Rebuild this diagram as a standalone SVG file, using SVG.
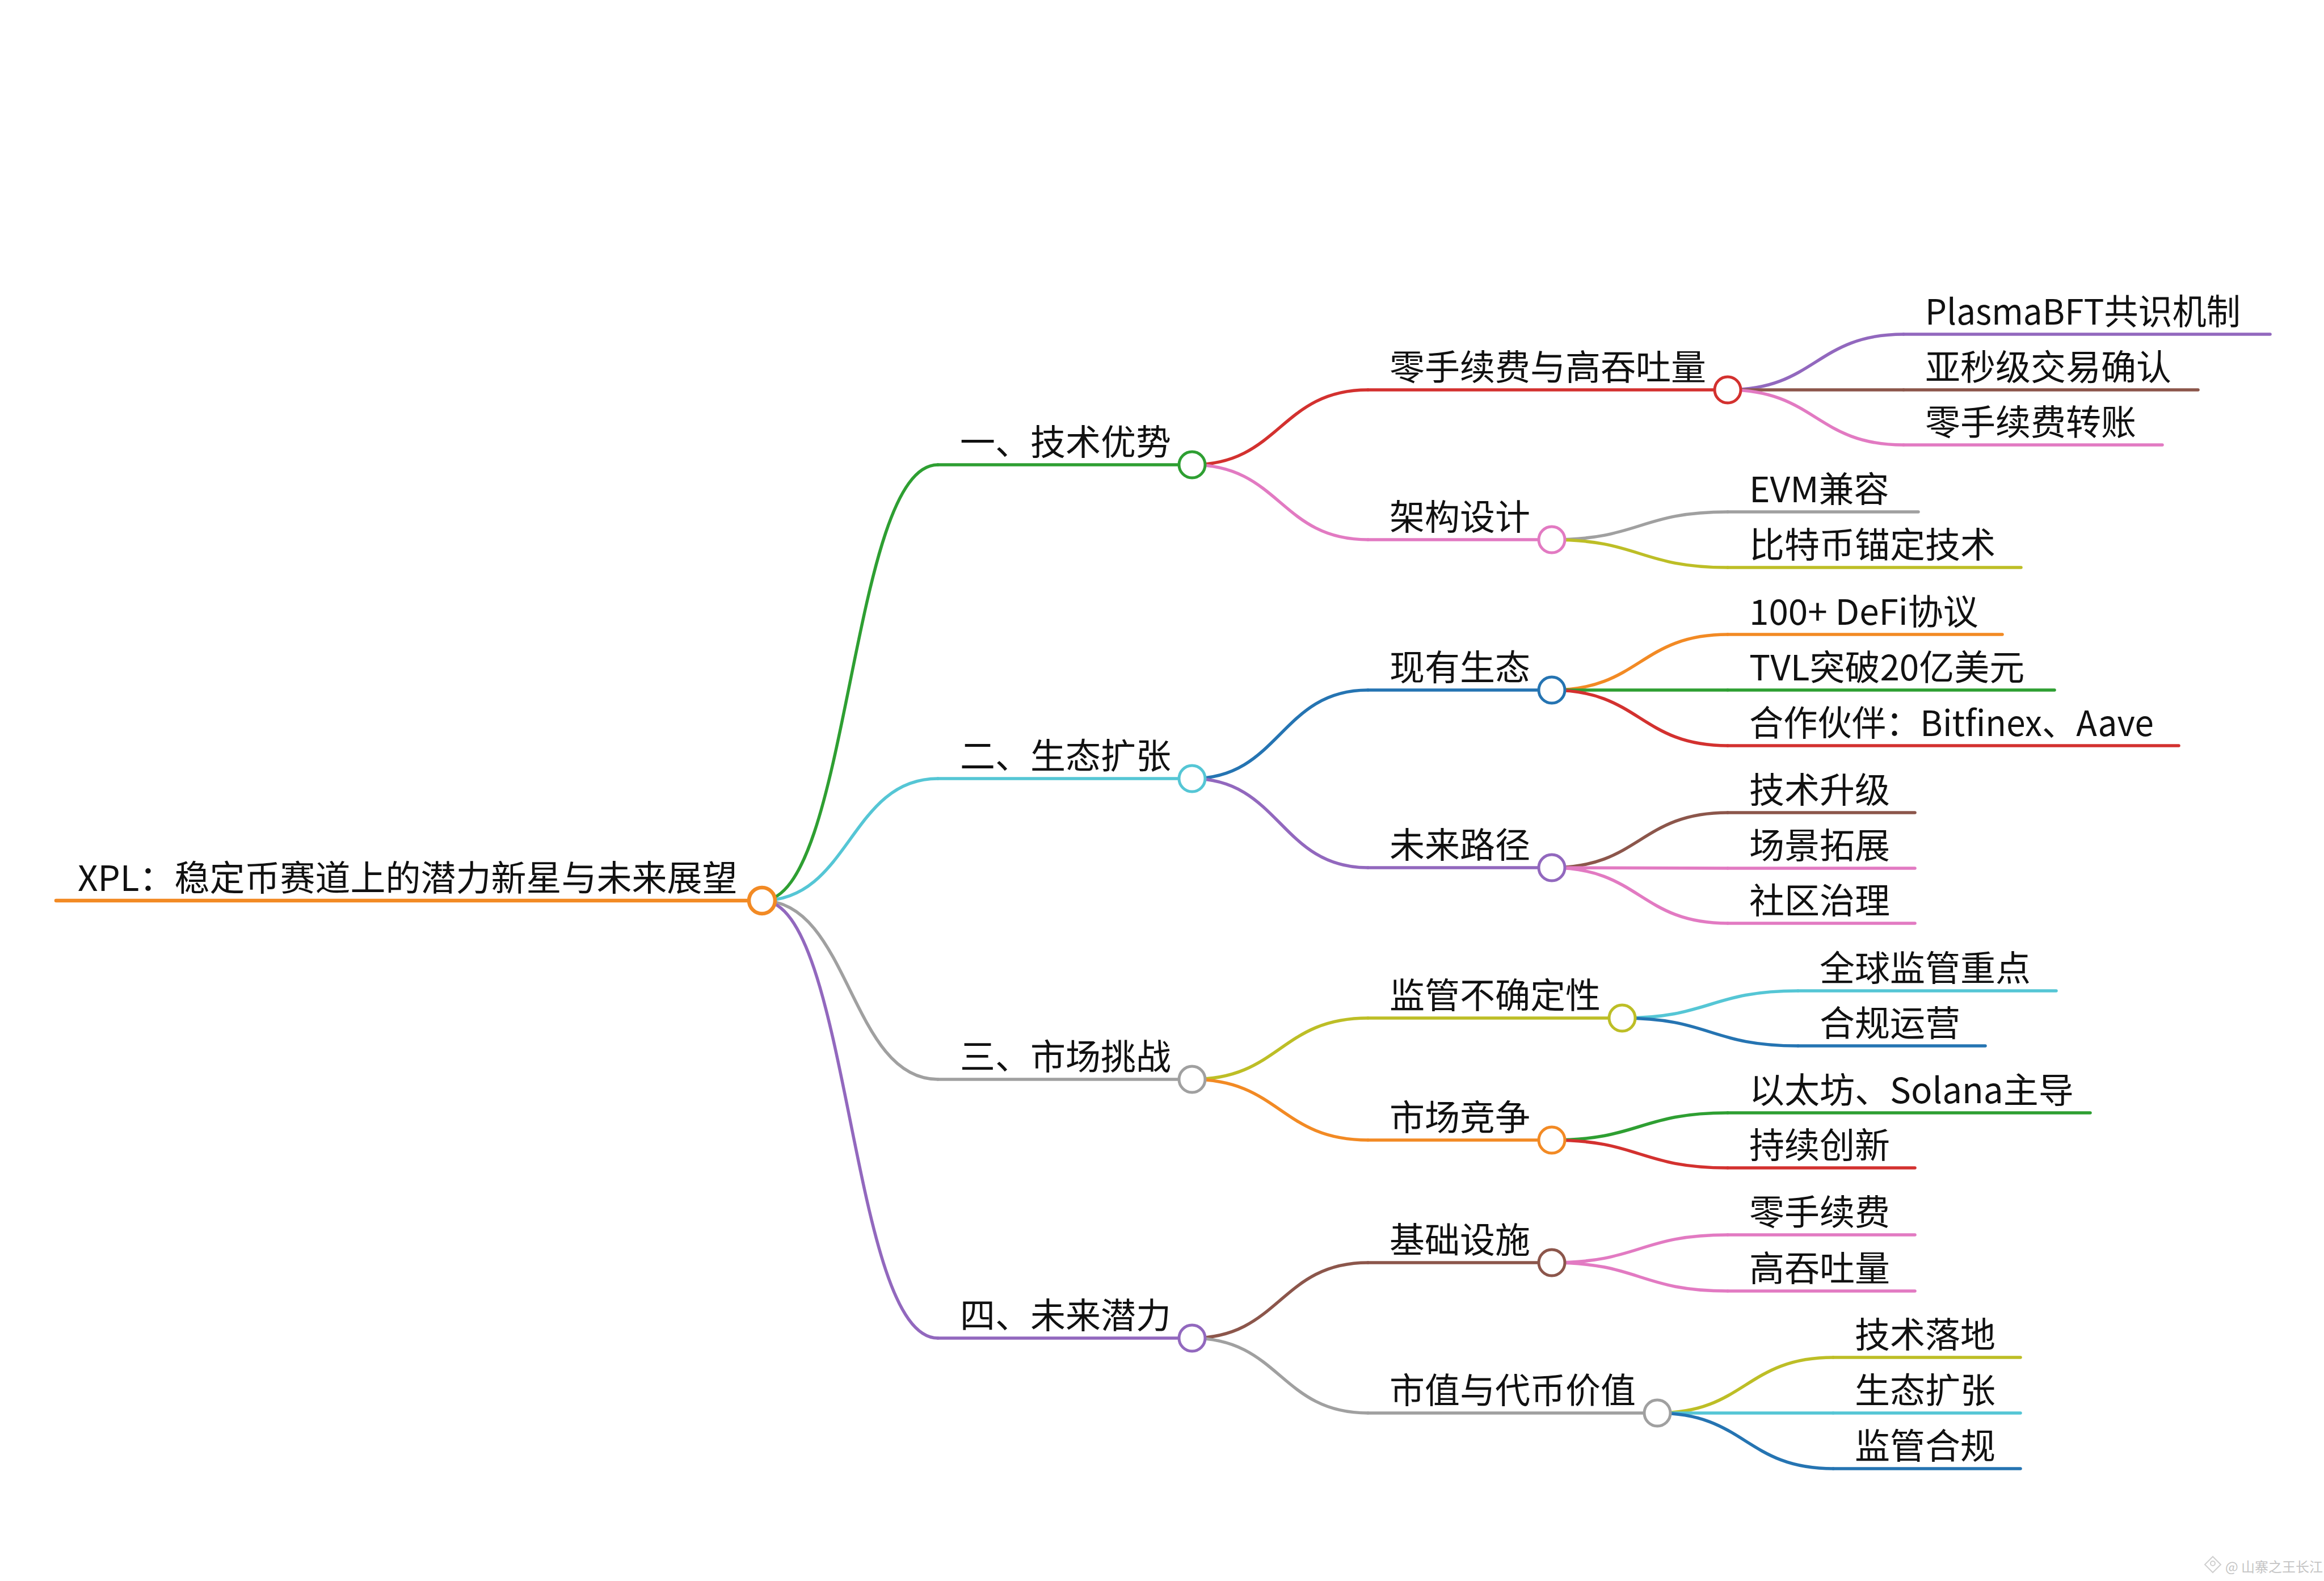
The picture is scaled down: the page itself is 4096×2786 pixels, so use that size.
<svg xmlns="http://www.w3.org/2000/svg" width="4096" height="2786" viewBox="0 0 4096 2786">
<style>
text{font-family:"Noto Sans CJK SC","Noto Sans",sans-serif;font-size:62px;fill:#111}
.ln{fill:none;stroke-width:5.5;stroke-linecap:round}
.cc{fill:#fff;stroke-width:5}
.root{stroke-width:6.5}
.or{stroke:#F28A24}.gr{stroke:#2E9F32}.rd{stroke:#D3312F}.pu{stroke:#9268BE}.br{stroke:#8C564B}.pk{stroke:#E27AC2}
.gy{stroke:#A0A0A0}.ol{stroke:#BDBE26}.cy{stroke:#55C6D5}.bl{stroke:#2574B2}
.wm{font-size:24px;fill:#C4C4C4}
</style>
<rect width="4096" height="2786" fill="#fff"/>
<g id="connectors">
<path class="ln gr" d="M1343 1587 C1498 1587 1498 819 1653 819"/>
<path class="ln cy" d="M1343 1587 C1498 1587 1498 1372 1653 1372"/>
<path class="ln gy" d="M1343 1587 C1498 1587 1498 1902 1653 1902"/>
<path class="ln pu" d="M1343 1587 C1498 1587 1498 2358 1653 2358"/>
<path class="ln rd" d="M2101 819 C2256 819 2256 687 2411 687"/>
<path class="ln pk" d="M2101 819 C2256 819 2256 951 2411 951"/>
<path class="ln bl" d="M2101 1372 C2256 1372 2256 1216 2411 1216"/>
<path class="ln pu" d="M2101 1372 C2256 1372 2256 1529 2411 1529"/>
<path class="ln ol" d="M2101 1902 C2256 1902 2256 1794 2411 1794"/>
<path class="ln or" d="M2101 1902 C2256 1902 2256 2009 2411 2009"/>
<path class="ln br" d="M2101 2358 C2256 2358 2256 2225 2411 2225"/>
<path class="ln gy" d="M2101 2358 C2256 2358 2256 2490 2411 2490"/>
<path class="ln pu" d="M3045 687 C3200 687 3200 589 3355 589"/>
<path class="ln br" d="M3045 687 L3355 687"/>
<path class="ln pk" d="M3045 687 C3200 687 3200 784 3355 784"/>
<path class="ln gy" d="M2735 951 C2890 951 2890 902 3045 902"/>
<path class="ln ol" d="M2735 951 C2890 951 2890 1000 3045 1000"/>
<path class="ln or" d="M2735 1216 C2890 1216 2890 1118 3045 1118"/>
<path class="ln gr" d="M2735 1216 L3045 1216"/>
<path class="ln rd" d="M2735 1216 C2890 1216 2890 1314 3045 1314"/>
<path class="ln br" d="M2735 1529 C2890 1529 2890 1432 3045 1432"/>
<path class="ln pk" d="M2735 1529 C2890 1529 2890 1530 3045 1530"/>
<path class="ln pk" d="M2735 1529 C2890 1529 2890 1627 3045 1627"/>
<path class="ln cy" d="M2859 1794 C3014 1794 3014 1746 3169 1746"/>
<path class="ln bl" d="M2859 1794 C3014 1794 3014 1843 3169 1843"/>
<path class="ln gr" d="M2735 2009 C2890 2009 2890 1961 3045 1961"/>
<path class="ln rd" d="M2735 2009 C2890 2009 2890 2058 3045 2058"/>
<path class="ln pk" d="M2735 2225 C2890 2225 2890 2176 3045 2176"/>
<path class="ln pk" d="M2735 2225 C2890 2225 2890 2275 3045 2275"/>
<path class="ln ol" d="M2921 2490 C3076 2490 3076 2392 3231 2392"/>
<path class="ln cy" d="M2921 2490 L3231 2490"/>
<path class="ln bl" d="M2921 2490 C3076 2490 3076 2588 3231 2588"/>
</g>

<g id="n-root"><path class="ln or root" d="M99 1587H1343"/><circle class="cc or root" cx="1343" cy="1587" r="23"/><text x="137" y="1570">XPL：稳定币赛道上的潜力新星与未来展望</text></g>

<g id="n-1"><path class="ln gr" d="M1653 819H2101"/><circle class="cc gr" cx="2101" cy="819" r="23"/><text x="1692" y="802">一、技术优势</text></g>
<g id="n-1-1"><path class="ln rd" d="M2411 687H3045"/><circle class="cc rd" cx="3045" cy="687" r="23"/><text x="2449" y="670">零手续费与高吞吐量</text></g>
<g id="n-1-1-1"><path class="ln pu" d="M3355 589H4001"/><text x="3393" y="572" textLength="556" lengthAdjust="spacingAndGlyphs">PlasmaBFT共识机制</text></g>
<g id="n-1-1-2"><path class="ln br" d="M3355 687H3874"/><text x="3393" y="670">亚秒级交易确认</text></g>
<g id="n-1-1-3"><path class="ln pk" d="M3355 784H3811"/><text x="3393" y="767">零手续费转账</text></g>
<g id="n-1-2"><path class="ln pk" d="M2411 951H2735"/><circle class="cc pk" cx="2735" cy="951" r="23"/><text x="2449" y="934">架构设计</text></g>
<g id="n-1-2-1"><path class="ln gy" d="M3045 902H3381"/><text x="3083" y="885">EVM兼容</text></g>
<g id="n-1-2-2"><path class="ln ol" d="M3045 1000H3562"/><text x="3083" y="983">比特币锚定技术</text></g>

<g id="n-2"><path class="ln cy" d="M1653 1372H2101"/><circle class="cc cy" cx="2101" cy="1372" r="23"/><text x="1692" y="1355">二、生态扩张</text></g>
<g id="n-2-1"><path class="ln bl" d="M2411 1216H2735"/><circle class="cc bl" cx="2735" cy="1216" r="23"/><text x="2449" y="1199">现有生态</text></g>
<g id="n-2-1-1"><path class="ln or" d="M3045 1118H3529"/><text x="3083" y="1101">100+ DeFi协议</text></g>
<g id="n-2-1-2"><path class="ln gr" d="M3045 1216H3621"/><text x="3083" y="1199">TVL突破20亿美元</text></g>
<g id="n-2-1-3"><path class="ln rd" d="M3045 1314H3840"/><text x="3083" y="1297" textLength="713" lengthAdjust="spacingAndGlyphs">合作伙伴：Bitfinex、Aave</text></g>
<g id="n-2-2"><path class="ln pu" d="M2411 1529H2735"/><circle class="cc pu" cx="2735" cy="1529" r="23"/><text x="2449" y="1512">未来路径</text></g>
<g id="n-2-2-1"><path class="ln br" d="M3045 1432H3375"/><text x="3083" y="1415">技术升级</text></g>
<g id="n-2-2-2"><path class="ln pk" d="M3045 1530H3375"/><text x="3083" y="1513">场景拓展</text></g>
<g id="n-2-2-3"><path class="ln pk" d="M3045 1627H3375"/><text x="3083" y="1610">社区治理</text></g>

<g id="n-3"><path class="ln gy" d="M1653 1902H2101"/><circle class="cc gy" cx="2101" cy="1902" r="23"/><text x="1692" y="1885">三、市场挑战</text></g>
<g id="n-3-1"><path class="ln ol" d="M2411 1794H2859"/><circle class="cc ol" cx="2859" cy="1794" r="23"/><text x="2449" y="1777">监管不确定性</text></g>
<g id="n-3-1-1"><path class="ln cy" d="M3169 1746H3624"/><text x="3207" y="1729">全球监管重点</text></g>
<g id="n-3-1-2"><path class="ln bl" d="M3169 1843H3499"/><text x="3207" y="1826">合规运营</text></g>
<g id="n-3-2"><path class="ln or" d="M2411 2009H2735"/><circle class="cc or" cx="2735" cy="2009" r="23"/><text x="2449" y="1992">市场竞争</text></g>
<g id="n-3-2-1"><path class="ln gr" d="M3045 1961H3684"/><text x="3083" y="1944">以太坊、Solana主导</text></g>
<g id="n-3-2-2"><path class="ln rd" d="M3045 2058H3375"/><text x="3083" y="2041">持续创新</text></g>

<g id="n-4"><path class="ln pu" d="M1653 2358H2101"/><circle class="cc pu" cx="2101" cy="2358" r="23"/><text x="1692" y="2341">四、未来潜力</text></g>
<g id="n-4-1"><path class="ln br" d="M2411 2225H2735"/><circle class="cc br" cx="2735" cy="2225" r="23"/><text x="2449" y="2208">基础设施</text></g>
<g id="n-4-1-1"><path class="ln pk" d="M3045 2176H3375"/><text x="3083" y="2159">零手续费</text></g>
<g id="n-4-1-2"><path class="ln pk" d="M3045 2275H3375"/><text x="3083" y="2258">高吞吐量</text></g>
<g id="n-4-2"><path class="ln gy" d="M2411 2490H2921"/><circle class="cc gy" cx="2921" cy="2490" r="23"/><text x="2449" y="2473">市值与代币价值</text></g>
<g id="n-4-2-1"><path class="ln ol" d="M3231 2392H3561"/><text x="3269" y="2375">技术落地</text></g>
<g id="n-4-2-2"><path class="ln cy" d="M3231 2490H3561"/><text x="3269" y="2473">生态扩张</text></g>
<g id="n-4-2-3"><path class="ln bl" d="M3231 2588H3561"/><text x="3269" y="2571">监管合规</text></g>

<g id="watermark">
<path d="M3900 2743 L3914 2757 L3900 2771 L3886 2757 Z" fill="none" stroke="#CFCFCF" stroke-width="2"/>
<circle cx="3900" cy="2755" r="4" fill="none" stroke="#CFCFCF" stroke-width="2"/>
<text class="wm" x="3922" y="2770">@ 山寨之王长江</text>
</g>
</svg>
